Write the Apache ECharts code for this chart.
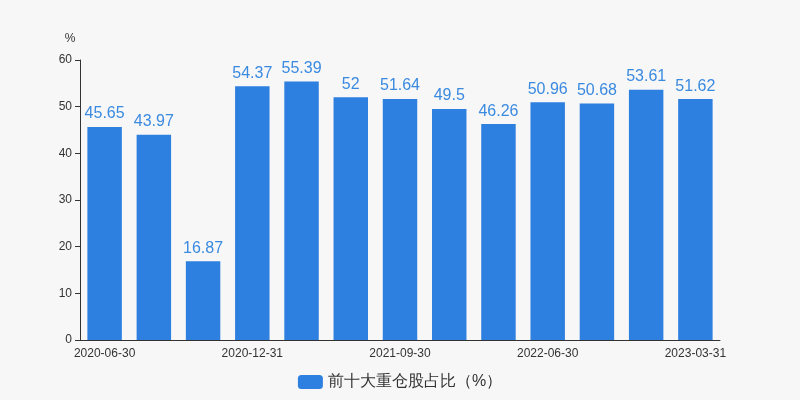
<!DOCTYPE html>
<html><head><meta charset="utf-8">
<script src="https://cdn.jsdelivr.net/npm/echarts@6/dist/echarts.min.js"></script>
<style>body{margin:0;background:#f7f7f7}#c{width:800px;height:400px}</style>
</head><body><div id="c"></div>
<script>
const categories=['2020-06-30','2020-09-30','2020-11-30','2020-12-31','2021-03-31','2021-06-30','2021-09-30','2021-12-31','2022-03-31','2022-06-30','2022-09-30','2022-12-31','2023-03-31'];
const values=[45.65,43.97,16.87,54.37,55.39,52,51.64,49.5,46.26,50.96,50.68,53.61,51.62];
const chart=echarts.init(document.getElementById('c'));
chart.setOption({
backgroundColor:'#f7f7f7',
textStyle:{fontFamily:'Arial, Liberation Sans, sans-serif'},
grid:{left:80,right:80,top:60,bottom:60},
legend:{bottom:5,itemWidth:25,itemHeight:14,icon:'roundRect',textStyle:{fontSize:16,color:'#333'},data:['前十大重仓股占比（%）']},
xAxis:{type:'category',data:categories,axisTick:{alignWithLabel:false,interval:2},axisLine:{lineStyle:{color:'#333'}},
 axisLabel:{interval:2,color:'#333',fontSize:12}},
yAxis:{type:'value',min:0,max:60,interval:10,name:'%',nameTextStyle:{color:'#333',fontSize:12,padding:[0,20,0,0]},
 axisLine:{show:true,lineStyle:{color:'#333'}},axisTick:{show:true},splitLine:{show:false},axisLabel:{color:'#333',fontSize:12}},
series:[{name:'前十大重仓股占比（%）',type:'bar',data:values,barWidth:'70%',itemStyle:{color:'#2d7fe0'},
 label:{show:true,position:'top',color:'#3a8ae0',fontSize:16}}]
});
</script></body></html>
